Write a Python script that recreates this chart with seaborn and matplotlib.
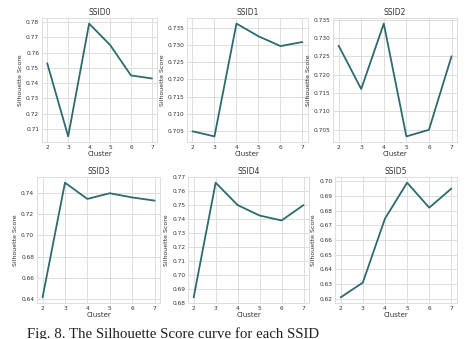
import matplotlib
matplotlib.use("Agg")
import matplotlib.pyplot as plt
import seaborn as sns
import pandas as pd
from matplotlib.ticker import MultipleLocator, FormatStrFormatter

clusters = [2, 3, 4, 5, 6, 7]
titles = ["SSID0", "SSID1", "SSID2", "SSID3", "SSID4", "SSID5"]
ssid0 = [0.753, 0.705, 0.779, 0.765, 0.745, 0.743]
ssid1 = [0.7048, 0.7033, 0.7364, 0.7327, 0.7298, 0.7310]
ssid2 = [0.7279, 0.7161, 0.7339, 0.7032, 0.7050, 0.7250]
ssid3 = [0.6413, 0.7500, 0.7346, 0.7400, 0.7360, 0.7330]
ssid4 = [0.684, 0.766, 0.750, 0.7425, 0.739, 0.750]
ssid5 = [0.621, 0.631, 0.6745, 0.699, 0.682, 0.695]
series = [ssid0, ssid1, ssid2, ssid3, ssid4, ssid5]

sns.set_theme(style="whitegrid")
plt.rcParams['font.family'] = ['DejaVu Sans']

fig = plt.figure(figsize=(4.74, 3.39), dpi=100)
rects = [
    [0.0886, 0.581, 0.243, 0.366],
    [0.3945, 0.581, 0.255, 0.366],
    [0.7025, 0.581, 0.262, 0.366],
    [0.078, 0.106, 0.260, 0.372],
    [0.397, 0.106, 0.255, 0.372],
    [0.707, 0.106, 0.257, 0.372],
]
steps = [0.01, 0.005, 0.005, 0.02, 0.01, 0.01]
fmts = ["%.2f", "%.3f", "%.3f", "%.2f", "%.2f", "%.2f"]

for i in range(6):
    ax = fig.add_axes(rects[i])
    df = pd.DataFrame({"Cluster": clusters, "Silhouette Score": series[i]})
    sns.lineplot(data=df, x="Cluster", y="Silhouette Score", ax=ax,
                 color="#2d6b6e", linewidth=1.3)
    ax.set_title(titles[i], fontsize=5.5, pad=2, color="#333333")
    ax.set_xlabel("Cluster", fontsize=5, labelpad=1, color="#333333")
    ax.set_ylabel("Silhouette Score", fontsize=4.5, labelpad=2, color="#333333")
    ax.yaxis.set_major_locator(MultipleLocator(steps[i]))
    ax.yaxis.set_major_formatter(FormatStrFormatter(fmts[i]))
    ax.set_xticks(clusters)
    ax.tick_params(axis="both", labelsize=4.2, pad=2, length=0, colors="#333333")
    ax.grid(True, color="#dddddd", linewidth=0.7)
    for s in ax.spines.values():
        s.set_color("#dddddd")
        s.set_linewidth(0.7)

fig.text(0.058, 0.034, "Fig. 8. The Silhouette Score curve for each SSID",
         family="Liberation Serif", fontsize=10.7, color="#222222", va="top")

fig.savefig("out.png", dpi=100)
